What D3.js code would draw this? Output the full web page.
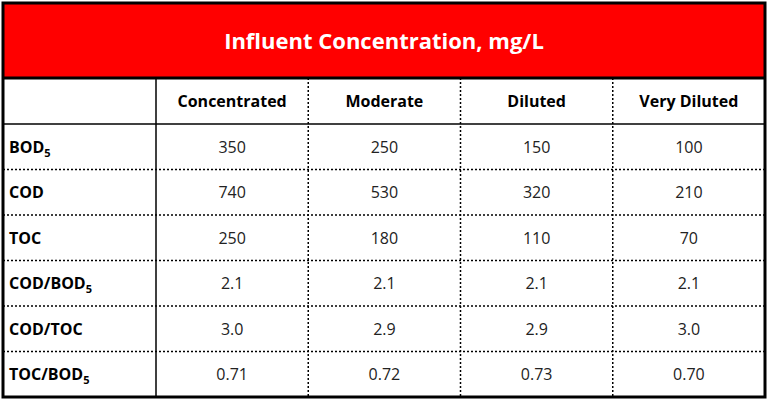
<!DOCTYPE html>
<html><head><meta charset="utf-8">
<script src="https://cdn.jsdelivr.net/npm/d3@7"></script>
<style>body{margin:0;background:#fff}text{font-family:"Open Sans","Liberation Sans",sans-serif}</style>
</head><body><svg id="c" width="768" height="401"></svg>
<script>
var title = 'Influent Concentration, mg/L';
var columns = ['Concentrated', 'Moderate', 'Diluted', 'Very Diluted'];
var rowLabels = [['BOD', '5'], ['COD', ''], ['TOC', ''], ['COD/BOD', '5'], ['COD/TOC', ''], ['TOC/BOD', '5']];
var bod5 = ['350', '250', '150', '100'];
var cod = ['740', '530', '320', '210'];
var toc = ['250', '180', '110', '70'];
var codBod = ['2.1', '2.1', '2.1', '2.1'];
var codToc = ['3.0', '2.9', '2.9', '3.0'];
var tocBod = ['0.71', '0.72', '0.73', '0.70'];
var values = [bod5, cod, toc, codBod, codToc, tocBod];

var svg = d3.select('#c');
var L = 3, R = 765, T = 3, B = 397, titleB = 78, headB = 124, firstColR = 156;
var x = d3.scaleLinear().domain([0, 4]).range([firstColR, R]);
var y = d3.scaleLinear().domain([0, 6]).range([headB, B]);

svg.append('rect').attr('x', L).attr('y', T).attr('width', R - L).attr('height', titleB - T).attr('fill', '#ff0000');
svg.append('text').attr('x', (L + R) / 2).attr('y', (T + titleB) / 2 + 8).attr('text-anchor', 'middle')
    .attr('fill', '#fff').attr('font-weight', 'bold').attr('font-size', 22).text(title);

// dotted grid
for (var i = 1; i < 6; i++) {
    svg.append('line').attr('x1', L).attr('x2', R).attr('y1', y(i)).attr('y2', y(i))
        .attr('stroke', '#000').attr('stroke-width', 1.5).attr('stroke-dasharray', '2,2');
}
for (var j = 1; j < 4; j++) {
    svg.append('line').attr('x1', x(j)).attr('x2', x(j)).attr('y1', titleB).attr('y2', B)
        .attr('stroke', '#000').attr('stroke-width', 1.5).attr('stroke-dasharray', '2,2');
}
// solid lines
svg.append('line').attr('x1', firstColR).attr('x2', firstColR).attr('y1', titleB).attr('y2', B).attr('stroke', '#000').attr('stroke-width', 1.5);
svg.append('line').attr('x1', L).attr('x2', R).attr('y1', headB).attr('y2', headB).attr('stroke', '#000').attr('stroke-width', 1.5);
svg.append('line').attr('x1', L).attr('x2', R).attr('y1', titleB).attr('y2', titleB).attr('stroke', '#000').attr('stroke-width', 3);
svg.append('rect').attr('x', L).attr('y', T).attr('width', R - L).attr('height', B - T)
    .attr('fill', 'none').attr('stroke', '#000').attr('stroke-width', 3);

svg.selectAll('text.col').data(columns).enter().append('text').attr('class', 'col')
    .attr('x', function(d, i) { return (x(i) + x(i + 1)) / 2; })
    .attr('y', (titleB + headB) / 2 + 6).attr('text-anchor', 'middle')
    .attr('font-weight', 'bold').attr('font-size', 16).attr('fill', '#000').text(function(d) { return d; });

var lab = svg.selectAll('text.row').data(rowLabels).enter().append('text').attr('class', 'row')
    .attr('x', 9).attr('y', function(d, i) { return (y(i) + y(i + 1)) / 2 + 6; })
    .attr('font-weight', 'bold').attr('font-size', 16).attr('fill', '#000');
lab.append('tspan').text(function(d) { return d[0]; });
lab.append('tspan').attr('dy', 4).attr('font-size', 11).text(function(d) { return d[1]; });

values.forEach(function(row, r) {
    svg.selectAll('text.v' + r).data(row).enter().append('text').attr('class', 'v' + r)
        .attr('x', function(d, i) { return (x(i) + x(i + 1)) / 2; })
        .attr('y', (y(r) + y(r + 1)) / 2 + 6).attr('text-anchor', 'middle')
        .attr('font-size', 16).attr('fill', '#222').text(function(d) { return d; });
});
</script></body></html>
